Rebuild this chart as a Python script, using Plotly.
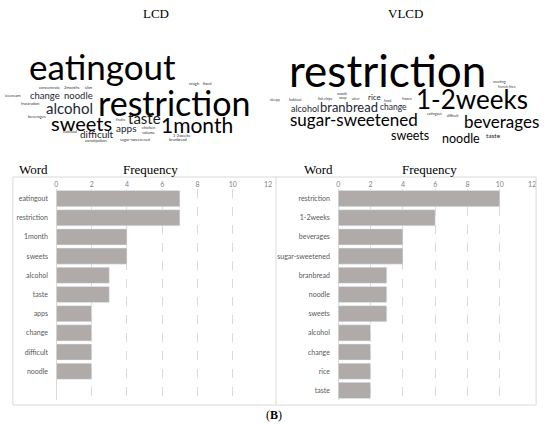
import plotly.graph_objects as go

W, H = 550, 424

# ---- data ----
lcd_words = ["eatingout", "restriction", "1month", "sweets", "alcohol", "taste",
             "apps", "change", "difficult", "noodle"]
lcd_freq = [7, 7, 4, 4, 3, 3, 2, 2, 2, 2]

vlcd_words = ["restriction", "1-2weeks", "beverages", "sugar-sweetened", "branbread",
              "noodle", "sweets", "alcohol", "change", "rice", "taste"]
vlcd_freq = [10, 6, 4, 4, 3, 3, 3, 2, 2, 2, 2]

x_ticks = [0, 2, 4, 6, 8, 10, 12]

# word clouds: (word, x_px, y_px, font size, color)
lcd_cloud = [
    ("eatingout", 102, 66, 35, "#000000"),
    ("restriction", 174, 102, 34, "#000000"),
    ("1month", 197, 124, 21, "#000000"),
    ("sweets", 80, 123, 20, "#000000"),
    ("taste", 144, 118, 15, "#1a1a1a"),
    ("alcohol", 68, 108, 15, "#1c2733"),
    ("noodle", 77, 96, 9.5, "#1c2733"),
    ("change", 43, 96, 9.5, "#1c2733"),
    ("apps", 126, 128, 10, "#1c2733"),
    ("difficult", 96, 134, 10, "#1a1a1a"),
    ("concentrate", 48, 88, 4, "#333333"),
    ("2months", 71, 88, 4, "#333333"),
    ("slim", 88, 88, 4, "#333333"),
    ("icecream", 11, 96, 4, "#333333"),
    ("frustration", 29, 103, 4, "#333333"),
    ("beverages", 35, 117, 4, "#333333"),
    ("habitual", 69, 131, 4, "#333333"),
    ("constipation", 95, 140, 4, "#333333"),
    ("fruits", 120, 120, 4, "#333333"),
    ("chicken", 148, 127, 4, "#333333"),
    ("volume", 148, 132, 4, "#333333"),
    ("sugar-sweetened", 134, 139, 4, "#333333"),
    ("rough", 194, 83, 4, "#333333"),
    ("fixed", 208, 83, 4, "#333333"),
    ("1-2weeks", 181, 135, 4, "#333333"),
    ("branbread", 178, 139, 4, "#333333"),
]
vlcd_cloud = [
    ("restriction", 390, 70, 44, "#000000"),
    ("1-2weeks", 475, 99, 26, "#000000"),
    ("sugar-sweetened", 356, 120, 17, "#000000"),
    ("beverages", 505, 121, 17, "#000000"),
    ("branbread", 351, 107, 13, "#1c2733"),
    ("alcohol", 306, 108, 9, "#1c2733"),
    ("change", 396, 107, 8.5, "#1c2733"),
    ("rice", 377, 97, 8, "#1c2733"),
    ("sweets", 413, 136, 12.5, "#000000"),
    ("noodle", 464, 138, 12.5, "#000000"),
    ("taste", 497, 135, 6.5, "#1a1a1a"),
    ("sleepy", 276, 100, 3.5, "#333333"),
    ("habitual", 296, 100, 3.5, "#333333"),
    ("fish chips", 327, 99, 3.5, "#333333"),
    ("mouth", 344, 94, 3.5, "#333333"),
    ("soup", 344, 98, 3.5, "#333333"),
    ("ulcer", 358, 99, 3.5, "#333333"),
    ("food", 390, 101, 3.5, "#333333"),
    ("frozen", 409, 99, 3.5, "#333333"),
    ("eatingout", 437, 114, 3.5, "#333333"),
    ("difficult", 456, 116, 3.5, "#333333"),
    ("meeting", 503, 82, 3.5, "#333333"),
    ("french fries", 511, 87, 3.5, "#333333"),
]

BAR = "#b0aba8"
GRID = "#d9d9d9"


def px(x):
    return x / W


def py(y):
    return 1 - y / H


fig = go.Figure()
fig.add_trace(go.Bar(x=lcd_freq, y=lcd_words, orientation="h", marker_color=BAR,
                     xaxis="x", yaxis="y", showlegend=False))
fig.add_trace(go.Bar(x=vlcd_freq, y=vlcd_words, orientation="h", marker_color=BAR,
                     xaxis="x2", yaxis="y2", showlegend=False))

xcommon = dict(range=[0, 12], tickvals=x_ticks, side="top", showgrid=True,
               gridcolor=GRID, griddash="dash", gridwidth=1, zeroline=True,
               zerolinecolor=GRID, zerolinewidth=1, showline=False,
               tickfont=dict(family="Lato", size=7, color="#7f7f7f"), ticks="")
ycommon = dict(type="category", showgrid=False, zeroline=False, showline=False,
               tickfont=dict(family="Lato", size=7, color="#595959"),
               ticks="outside", ticklen=6, tickcolor="rgba(0,0,0,0)")

ydom = [py(400), py(189)]
fig.update_layout(
    width=W, height=H, margin=dict(l=0, r=0, t=0, b=0),
    paper_bgcolor="white", plot_bgcolor="white", bargap=0.16,
    xaxis=dict(domain=[px(55), px(269)], anchor="y", **xcommon),
    yaxis=dict(domain=ydom, anchor="x", range=[10.5, -0.5], **ycommon),
    xaxis2=dict(domain=[px(340), px(536)], anchor="y2", **xcommon),
    yaxis2=dict(domain=ydom, anchor="x2", range=[10.5, -0.5], **ycommon),
)

shapes = [
    # left panel frame (top, left, bottom)
    dict(type="line", x0=px(11), x1=px(277), y0=py(177), y1=py(177)),
    dict(type="line", x0=px(11), x1=px(11), y0=py(177), y1=py(405)),
    dict(type="line", x0=px(11), x1=px(277), y0=py(405), y1=py(405)),
    # right panel frame
    dict(type="rect", x0=px(277), x1=px(540), y0=py(405), y1=py(177)),
]
for s in shapes:
    s.update(xref="paper", yref="paper", line=dict(color=GRID, width=1))
fig.update_layout(shapes=shapes)

ann = []
serif = "Liberation Serif"
for txt, x, y, size in [("LCD", 156, 13, 13), ("VLCD", 408, 13, 13),
                        ("Word", 32, 169, 13), ("Frequency", 150, 169, 13),
                        ("Word", 320, 169, 13), ("Frequency", 432, 169, 13),
                        ("(<b>B</b>)", 275, 415, 12)]:
    ann.append(dict(text=txt, x=px(x), y=py(y), xref="paper", yref="paper",
                    showarrow=False, xanchor="center", yanchor="middle",
                    font=dict(family=serif, size=size, color="#000000")))

for cloud in (lcd_cloud, vlcd_cloud):
    for word, x, y, size, color in cloud:
        ann.append(dict(text=word, x=px(x), y=py(y), xref="paper", yref="paper",
                        showarrow=False, xanchor="center", yanchor="middle",
                        font=dict(family="Lato", size=size, color=color)))
fig.update_layout(annotations=ann)

fig.write_html("out.html", config={"displayModeBar": False},
               post_script="document.body.style.margin='0';document.body.style.overflow='hidden';")
